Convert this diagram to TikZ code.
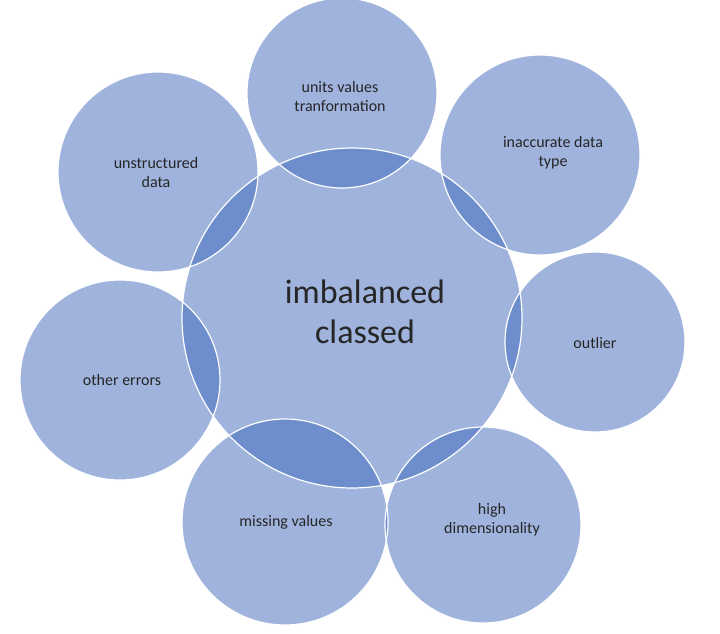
\documentclass[tikz,border=0pt]{standalone}
\usepackage{fontspec}
\setmainfont{Carlito}
\definecolor{cfill}{RGB}{63,104,188}
\begin{document}
\begin{tikzpicture}[x=1pt,y=-1pt,
  blob/.style={fill=cfill,fill opacity=0.5,draw=none},
  rim/.style={draw=white,line width=1.2pt},
  lbl/.style={align=center,font=\fontsize{16}{19}\selectfont,text=black!85}]
\useasboundingbox (0,0) rectangle (720,633);
\def\circs{352/318/170, 342/93/95, 540/155/100, 595/342/90, 483/525/98, 285/522/103, 120/380/100, 158/172/100}
\foreach \x/\y/\r in \circs {\fill[blob] (\x,\y) circle (\r);}
\foreach \x/\y/\r in \circs {\draw[rim] (\x,\y) circle (\r);}
\node[lbl,font=\fontsize{34}{40}\selectfont] (c) at (365,312) {imbalanced\\classed};
\node[lbl] (a) at (340,96) {units values\\tranformation};
\node[lbl] (b) at (553,153) {inaccurate data\\type};
\node[lbl] (o) at (595,343) {outlier};
\node[lbl] (h) at (492,520) {high\\dimensionality};
\node[lbl] (m) at (286,522) {missing values};
\node[lbl] (e) at (122,380) {other errors};
\node[lbl] (u) at (156,172) {unstructured\\data};
\end{tikzpicture}
\end{document}
